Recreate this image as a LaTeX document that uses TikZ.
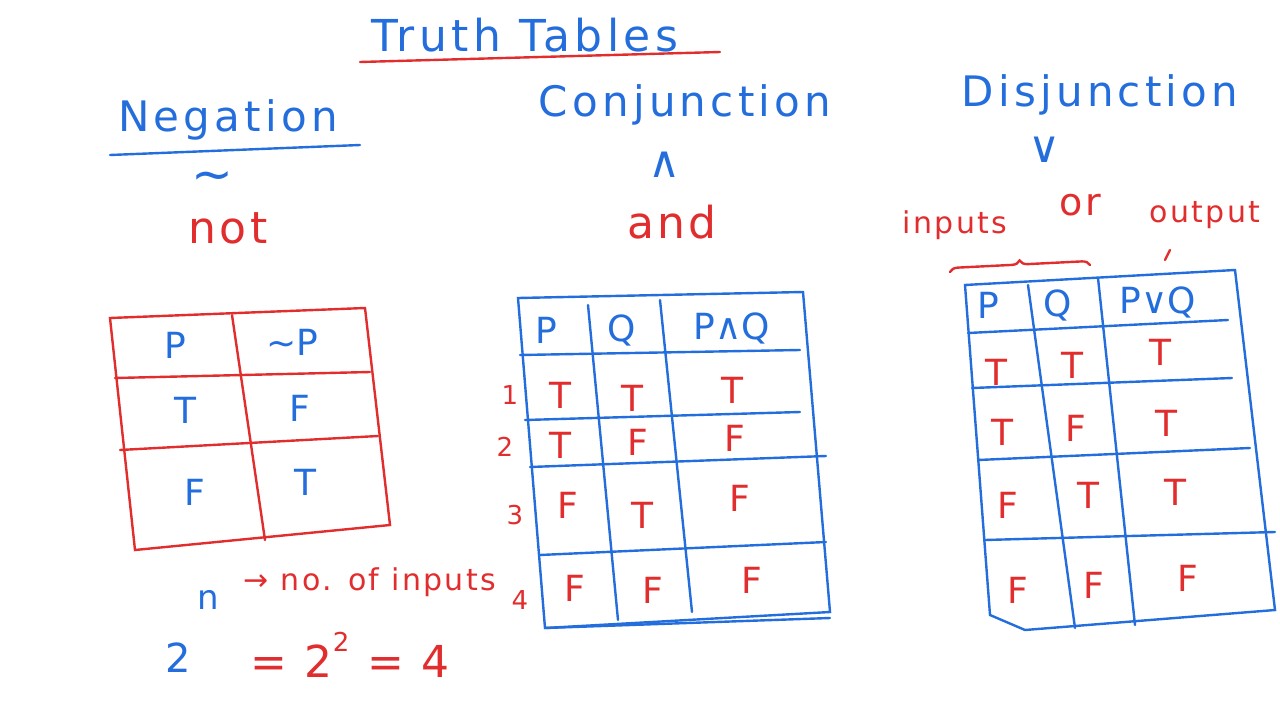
\documentclass[tikz,border=0pt]{standalone}
\usepackage{fontspec}
\setmainfont{DejaVu Sans}
\usetikzlibrary{decorations.pathreplacing}
\definecolor{pb}{RGB}{35,110,220}
\definecolor{pr}{RGB}{225,45,45}
\tikzset{x=1pt,y=-1pt,
 bl/.style={draw=pb,line width=2.4pt,line cap=round},
 rl/.style={draw=pr,line width=2.4pt,line cap=round},
 bt/.style={text=pb,font=\fontsize{#1}{#1}\selectfont\addfontfeatures{LetterSpace=10}},
 rt/.style={text=pr,font=\fontsize{#1}{#1}\selectfont\addfontfeatures{LetterSpace=8}},
 ct/.style={font=\fontsize{36}{36}\selectfont}}
\begin{document}
\begin{tikzpicture}
\useasboundingbox[fill=white] (0,0) rectangle (1280,720);
% titles
\node[bt=44] (title) at (525,35) {Truth Tables};
\draw[rl] (360,62) -- (720,52);
\node[bt=42] (neg) at (228,120) {Negation};
\draw[bl] (110,155) -- (360,145);
\node[bt=50] (tilde) at (212,182) {\char"223C};
\node[rt=44] (not) at (228,228) {not};
\node[bt=42] (con) at (685,105) {Conjunction};
\node[bt=44] (wedge) at (665,165) {∧};
\node[rt=44] (and) at (672,222) {and};
\node[bt=42] (dis) at (1100,95) {Disjunction};
\node[bt=44] (vee) at (1045,150) {∨};
\node[rt=38] (or) at (1080,205) {or};
\node[rt=30] (inp) at (955,225) {inputs};
\draw[rl,decorate,decoration={brace,amplitude=8pt}] (950,272) -- (1090,265);
\node[rt=30] (outp) at (1205,215) {output};
\draw[rl] (1170,250) -- (1165,260);
% negation table
\draw[rl] (110,318) -- (365,308) -- (390,525) -- (135,550) -- cycle;
\draw[rl] (232,315) -- (265,540);
\draw[rl] (115,378) -- (370,372);
\draw[rl] (120,450) -- (378,436);
\begin{scope}[every node/.style={ct,text=pb}]
\node (n1) at (175,345) {P}; \node (n2) at (292,342) {∼P};
\node (n3) at (185,410) {T}; \node (n4) at (300,408) {F};
\node (n5) at (195,492) {F}; \node (n6) at (305,482) {T};
\end{scope}
% conjunction table
\draw[bl] (518,298) -- (803,292) -- (830,612) -- (545,628) -- cycle;
\draw[bl] (520,355) -- (800,350);
\draw[bl] (525,420) -- (800,412);
\draw[bl] (530,467) -- (826,456);
\draw[bl] (540,555) -- (826,542);
\draw[bl] (545,628) -- (830,618);
\draw[bl] (588,305) -- (618,620);
\draw[bl] (660,300) -- (692,612);
\begin{scope}[every node/.style={ct}]
\node[text=pb] (c1) at (546,330) {P}; \node[text=pb] (c2) at (622,330) {Q}; \node[text=pb] (c3) at (732,328) {P∧Q};
\node[text=pr] at (560,395) {T}; \node[text=pr] at (632,398) {T}; \node[text=pr] at (732,390) {T};
\node[text=pr] at (560,445) {T}; \node[text=pr] at (638,442) {F}; \node[text=pr] at (735,438) {F};
\node[text=pr] at (568,505) {F}; \node[text=pr] at (642,515) {T}; \node[text=pr] at (740,498) {F};
\node[text=pr] at (575,588) {F}; \node[text=pr] at (653,590) {F}; \node[text=pr] at (752,580) {F};
\end{scope}
\begin{scope}[every node/.style={text=pr,font=\fontsize{26}{26}\selectfont}]
\node (r1) at (510,395) {1}; \node (r2) at (505,447) {2}; \node (r3) at (515,515) {3}; \node (r4) at (520,600) {4};
\end{scope}
% disjunction table
\draw[bl] (965,285) -- (1235,270) -- (1275,610) -- (1025,630) -- (990,615) -- cycle;
\draw[bl] (968,333) -- (1228,320);
\draw[bl] (972,388) -- (1232,378);
\draw[bl] (978,460) -- (1250,448);
\draw[bl] (985,540) -- (1275,532);
\draw[bl] (1028,285) -- (1075,628);
\draw[bl] (1098,278) -- (1135,625);
\begin{scope}[every node/.style={ct}]
\node[text=pb] (d1) at (988,305) {P}; \node[text=pb] (d2) at (1058,305) {Q}; \node[text=pb] (d3) at (1158,302) {P∨Q};
\node[text=pr] at (996,372) {T}; \node[text=pr] at (1072,365) {T}; \node[text=pr] at (1160,352) {T};
\node[text=pr] at (1002,432) {T}; \node[text=pr] at (1076,428) {F}; \node[text=pr] at (1166,423) {T};
\node[text=pr] at (1008,505) {F}; \node[text=pr] at (1088,495) {T}; \node[text=pr] at (1175,492) {T};
\node[text=pr] at (1018,590) {F}; \node[text=pr] at (1094,585) {F}; \node[text=pr] at (1188,578) {F};
\end{scope}
% formula
\node[bt=40] (two) at (178,658) {2};
\node[bt=34] (nn) at (208,600) {n};
\node[rt=30] (arr) at (370,582) {→ no. of inputs};
\node[rt=44] (eq) at (350,655) {= 2\raisebox{0.6em}{\fontsize{26}{26}\selectfont 2} = 4};
\end{tikzpicture}
\end{document}
